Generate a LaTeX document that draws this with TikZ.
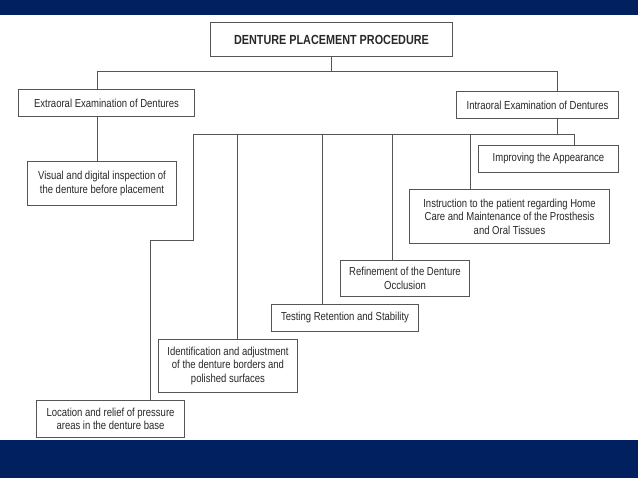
\documentclass[tikz,border=0pt]{standalone}
\usepackage{fontspec}
\setmainfont{Liberation Sans}[FakeStretch=0.82]
\begin{document}
\begin{tikzpicture}[x=1pt,y=-1pt,
  box/.style={draw=boxgray, line width=1pt, fill=white, align=center, inner sep=0pt,
    anchor=north west, text=txtgray, font=\fontsize{11.6}{13.5}\selectfont},
  conn/.style={draw=linegray, line width=1pt}]
\definecolor{navy}{RGB}{0,32,96}
\definecolor{boxgray}{RGB}{85,85,85}
\definecolor{linegray}{RGB}{85,85,85}
\definecolor{txtgray}{RGB}{40,40,40}
\useasboundingbox (0,0) rectangle (638,478);
\fill[white] (0,0) rectangle (638,478);
\fill[navy] (0,0) rectangle (638,15);
\fill[navy] (0,440) rectangle (638,478);

\node[box, minimum width=242pt, minimum height=34pt, font=\fontsize{13.2}{15}\selectfont\bfseries] (top) at (210,22) {DENTURE PLACEMENT PROCEDURE};
\node[box, minimum width=176pt, minimum height=27pt] (ext) at (18,89) {Extraoral Examination of Dentures};
\node[box, minimum width=162pt, minimum height=27pt] (int) at (456,91) {Intraoral Examination of Dentures};
\node[box, minimum width=149pt, minimum height=44pt] (vis) at (27,161) {Visual and digital inspection of\\the denture before placement};
\node[box, minimum width=140pt, minimum height=27pt] (imp) at (478,145) {Improving the Appearance};
\node[box, minimum width=200pt, minimum height=54pt] (ins) at (409,189) {Instruction to the patient regarding Home\\Care and Maintenance of the Prosthesis\\and Oral Tissues};
\node[box, minimum width=129pt, minimum height=36pt] (ref) at (340,260) {Refinement of the Denture\\Occlusion};
\node[box, minimum width=147pt, minimum height=27pt] (tes) at (271,304) {Testing Retention and Stability};
\node[box, minimum width=139pt, minimum height=53pt] (ide) at (158,339) {Identification and adjustment\\of the denture borders and\\polished surfaces};
\node[box, minimum width=148pt, minimum height=37pt] (loc) at (36,400) {Location and relief of pressure\\areas in the denture base};

\coordinate (b1L) at (97,72);
\coordinate (b1R) at (557,72);
\coordinate (b2L) at (193,135);
\coordinate (b2R) at (574,135);
\coordinate (k) at (150,241);
\coordinate (dI) at (470,135);
\coordinate (dR) at (392,135);
\coordinate (dT) at (322,135);
\coordinate (dD) at (237,135);

\draw[conn] (top.south) -- (top.south |- b1L);
\draw[conn] (ext.north -| b1L) -- (b1L) -- (b1R) -- (int.north -| b1R);
\draw[conn] (ext.south -| b1L) -- (vis.north -| b1L);
\draw[conn] (int.south -| b1R) -- (b1R |- b2L);
\draw[conn] (imp.north -| b2R) -- (b2R) -- (b2L) -- (b2L |- k) -- (k) -- (loc.north -| k);
\draw[conn] (dI) -- (ins.north -| dI);
\draw[conn] (dR) -- (ref.north -| dR);
\draw[conn] (dT) -- (tes.north -| dT);
\draw[conn] (dD) -- (ide.north -| dD);
\end{tikzpicture}
\end{document}
